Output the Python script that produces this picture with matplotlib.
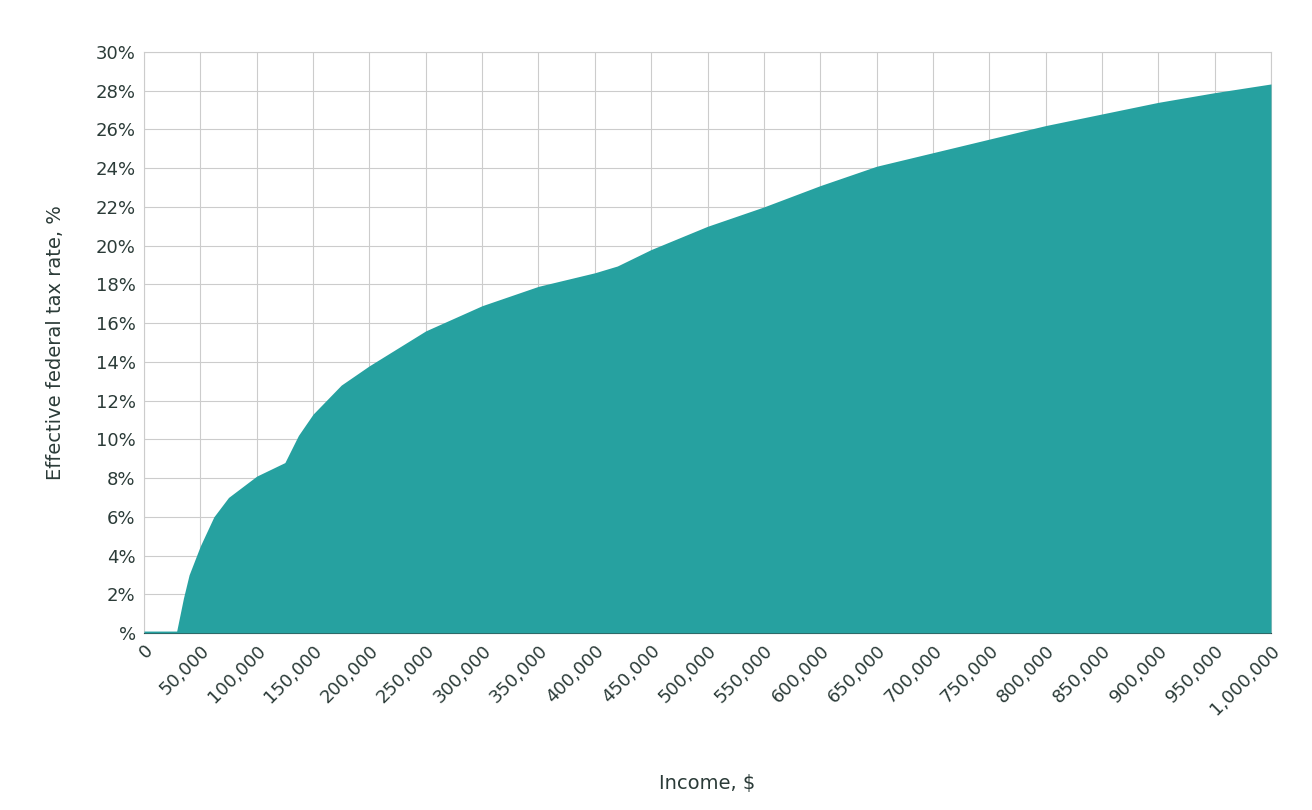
import matplotlib
matplotlib.use("Agg")
import matplotlib.pyplot as plt
from matplotlib.ticker import FuncFormatter

income = [0, 29000, 35000, 40000, 50000, 62000, 75000, 100000, 125000, 137000, 150000, 175000, 200000,
          250000, 300000, 350000, 400000, 420000, 450000, 500000, 550000, 600000, 650000,
          700000, 750000, 800000, 850000, 900000, 950000, 1000000]
rate = [0.1, 0.1, 1.8, 3.0, 4.5, 6.0, 7.0, 8.1, 8.8, 10.2, 11.3, 12.8, 13.8,
        15.6, 16.9, 17.9, 18.6, 18.95, 19.8, 21.0, 22.0, 23.1, 24.1,
        24.8, 25.5, 26.2, 26.8, 27.4, 27.9, 28.35]
xticks = list(range(0, 1000001, 50000))
yticks = list(range(0, 31, 2))

txt = "#2b3b38"
fig = plt.figure(figsize=(13.12, 8.10), dpi=100)
ax = fig.add_axes([144/1312, 1-633/810, (1271-144)/1312, (633-52)/810])
ax.fill_between(income, rate, 0, color="#26a1a0", lw=0, zorder=3)
ax.set_xlim(0, 1000000)
ax.set_ylim(0, 30)
ax.set_xticks(xticks)
ax.set_yticks(yticks)
ax.xaxis.set_major_formatter(FuncFormatter(lambda v, p: f"{int(v):,}"))
ax.yaxis.set_major_formatter(FuncFormatter(lambda v, p: f"{int(v)}%" if v else "%"))
ax.grid(True, color="#cccccc", lw=0.8, zorder=0)
for s in ["top", "right", "left"]:
    ax.spines[s].set_color("#cccccc")
ax.spines["bottom"].set_color("#333333")
ax.tick_params(length=0, labelsize=13, colors=txt, pad=6)
plt.setp(ax.get_xticklabels(), rotation=45, ha="right", rotation_mode="anchor")
for l in ax.get_xticklabels():
    l.set_ha("right")
ax.set_xlabel("Income, $", fontsize=14, color=txt, labelpad=40)
ax.set_ylabel("Effective federal tax rate, %", fontsize=14, color=txt, labelpad=22)
fig.savefig("out.png", dpi=100)
